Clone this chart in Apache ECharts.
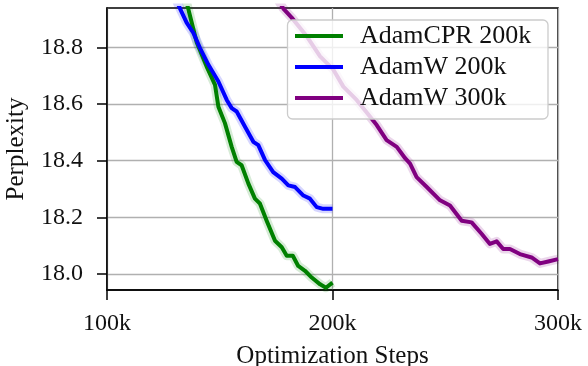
<!DOCTYPE html>
<html>
<head>
<meta charset="utf-8">
<script src="https://cdn.jsdelivr.net/npm/echarts@6/dist/echarts.min.js"></script>
<style>html,body{margin:0;padding:0;background:#fff;}#c{width:588px;height:366px;}</style>
</head>
<body>
<div id="c"></div>
<script>
// ---- data (steps in thousands, perplexity) ----
const seriesNames = ['AdamCPR 200k', 'AdamW 200k', 'AdamW 300k'];
const cprSteps = [133, 136.0, 139.8, 144.2, 147.9, 149.4, 152.3, 155.3, 157.5, 159.7, 162.7, 165.6, 167.8, 170.8, 174.5, 177.5, 179.7, 182.4, 184.8, 187.8, 190.8, 194.5, 197.1, 200];
const cprPpl   = [19.03, 18.938, 18.818, 18.733, 18.668, 18.591, 18.533, 18.449, 18.396, 18.384, 18.319, 18.266, 18.249, 18.188, 18.117, 18.094, 18.064, 18.064, 18.028, 18.011, 17.987, 17.963, 17.951, 17.969];
const adamw200Steps = [130, 132.4, 135.3, 138.3, 141.2, 144.9, 149.4, 153.1, 155.3, 157.5, 161.2, 164.9, 167.1, 170.1, 173.7, 177.5, 180.4, 183.4, 187.1, 190.0, 193.0, 195.9, 200];
const adamw200Ppl   = [18.98, 18.938, 18.888, 18.852, 18.799, 18.740, 18.680, 18.615, 18.586, 18.574, 18.520, 18.467, 18.455, 18.402, 18.360, 18.337, 18.313, 18.307, 18.277, 18.266, 18.236, 18.230, 18.230];
const adamw300Steps = [175, 178.2, 181.9, 188.6, 194.5, 200.4, 204.8, 210.7, 216.6, 219.6, 224.0, 228.5, 232.2, 234.4, 237.3, 241.8, 247.7, 252.1, 257.3, 261.7, 266.2, 269.8, 272.8, 275.7, 278.7, 283.1, 288.3, 292.0, 295.7, 300];
const adamw300Ppl   = [18.98, 18.938, 18.906, 18.840, 18.769, 18.722, 18.662, 18.615, 18.556, 18.526, 18.473, 18.449, 18.409, 18.390, 18.342, 18.307, 18.260, 18.242, 18.188, 18.182, 18.141, 18.106, 18.115, 18.088, 18.088, 18.070, 18.058, 18.037, 18.044, 18.052];
const xTicks = [100, 200, 300];
const yTicks = [18.0, 18.2, 18.4, 18.6, 18.8];
const colors = ['#008000', '#0000ff', '#800080'];

const FONT = '"Liberation Serif", "DejaVu Serif", serif';
const pairs = (xs, ys) => xs.map((x, i) => [x * 1000, ys[i]]);
const allData = [pairs(cprSteps, cprPpl), pairs(adamw200Steps, adamw200Ppl), pairs(adamw300Steps, adamw300Ppl)];

const series = [];
allData.forEach((d, i) => {
  series.push({
    name: seriesNames[i] + ' band', type: 'line', data: d, symbol: 'none', silent: true,
    lineStyle: { width: 9, color: colors[i], opacity: 0.16, join: 'round' }, z: 1, animation: false
  });
});
allData.forEach((d, i) => {
  series.push({
    name: seriesNames[i], type: 'line', data: d, symbol: 'none', showSymbol: false,
    lineStyle: { width: 4, color: colors[i], join: 'round' }, itemStyle: { color: colors[i] }, z: 2, animation: false
  });
});

const chart = echarts.init(document.getElementById('c'), null, { renderer: 'canvas' });
chart.setOption({
  animation: false,
  backgroundColor: '#fff',
  grid: { left: 107, right: 30, top: 8, bottom: 76, show: true, borderColor: '#000', borderWidth: 1.5, backgroundColor: 'transparent', outerBoundsMode: 'none', containLabel: false },
  graphic: [{
    type: 'rect', z: 3, shape: { x: 287.5, y: 20, width: 260.5, height: 99, r: 5 },
    style: { fill: 'rgba(255,255,255,0.8)', stroke: '#cccccc', lineWidth: 1.3 }
  }],
  legend: {
    data: seriesNames, orient: 'vertical', left: 295, top: 20.5, padding: 0, itemGap: 0,
    icon: 'rect', itemWidth: 48, itemHeight: 4, z: 4,
    textStyle: { fontFamily: FONT, fontSize: 26, color: '#111', lineHeight: 31, padding: [0, 0, 0, 12] }
  },
  xAxis: {
    type: 'value', min: xTicks[0] * 1000, max: xTicks[xTicks.length - 1] * 1000, interval: 100000,
    name: 'Optimization Steps', nameLocation: 'middle', nameGap: 54,
    nameTextStyle: { fontFamily: FONT, fontSize: 25, color: '#111' },
    axisLine: { show: true, lineStyle: { color: '#000', width: 1.5 } },
    axisTick: { show: true, inside: false, length: 10, lineStyle: { color: '#000', width: 1.5 } },
    axisLabel: { fontFamily: FONT, fontSize: 24, color: '#111', margin: 22, formatter: v => (v / 1000) + 'k' },
    splitLine: { show: true, lineStyle: { color: '#b0b0b0', width: 1.3 } }
  },
  yAxis: {
    type: 'value', min: 17.943, max: 18.94,
    name: 'Perplexity', nameLocation: 'middle', nameGap: 78, nameRotate: 90,
    nameTextStyle: { fontFamily: FONT, fontSize: 25, color: '#111' },
    axisLine: { show: true, lineStyle: { color: '#000', width: 1.5 } },
    axisTick: { show: true, inside: false, length: 10, customValues: yTicks, lineStyle: { color: '#000', width: 1.5 } },
    axisLabel: { fontFamily: FONT, fontSize: 24, color: '#111', margin: 24, customValues: yTicks, formatter: v => v.toFixed(1) },
    splitLine: { show: true, lineStyle: { color: '#b0b0b0', width: 1.3 } }
  },
  series: series
});
</script>
</body>
</html>
